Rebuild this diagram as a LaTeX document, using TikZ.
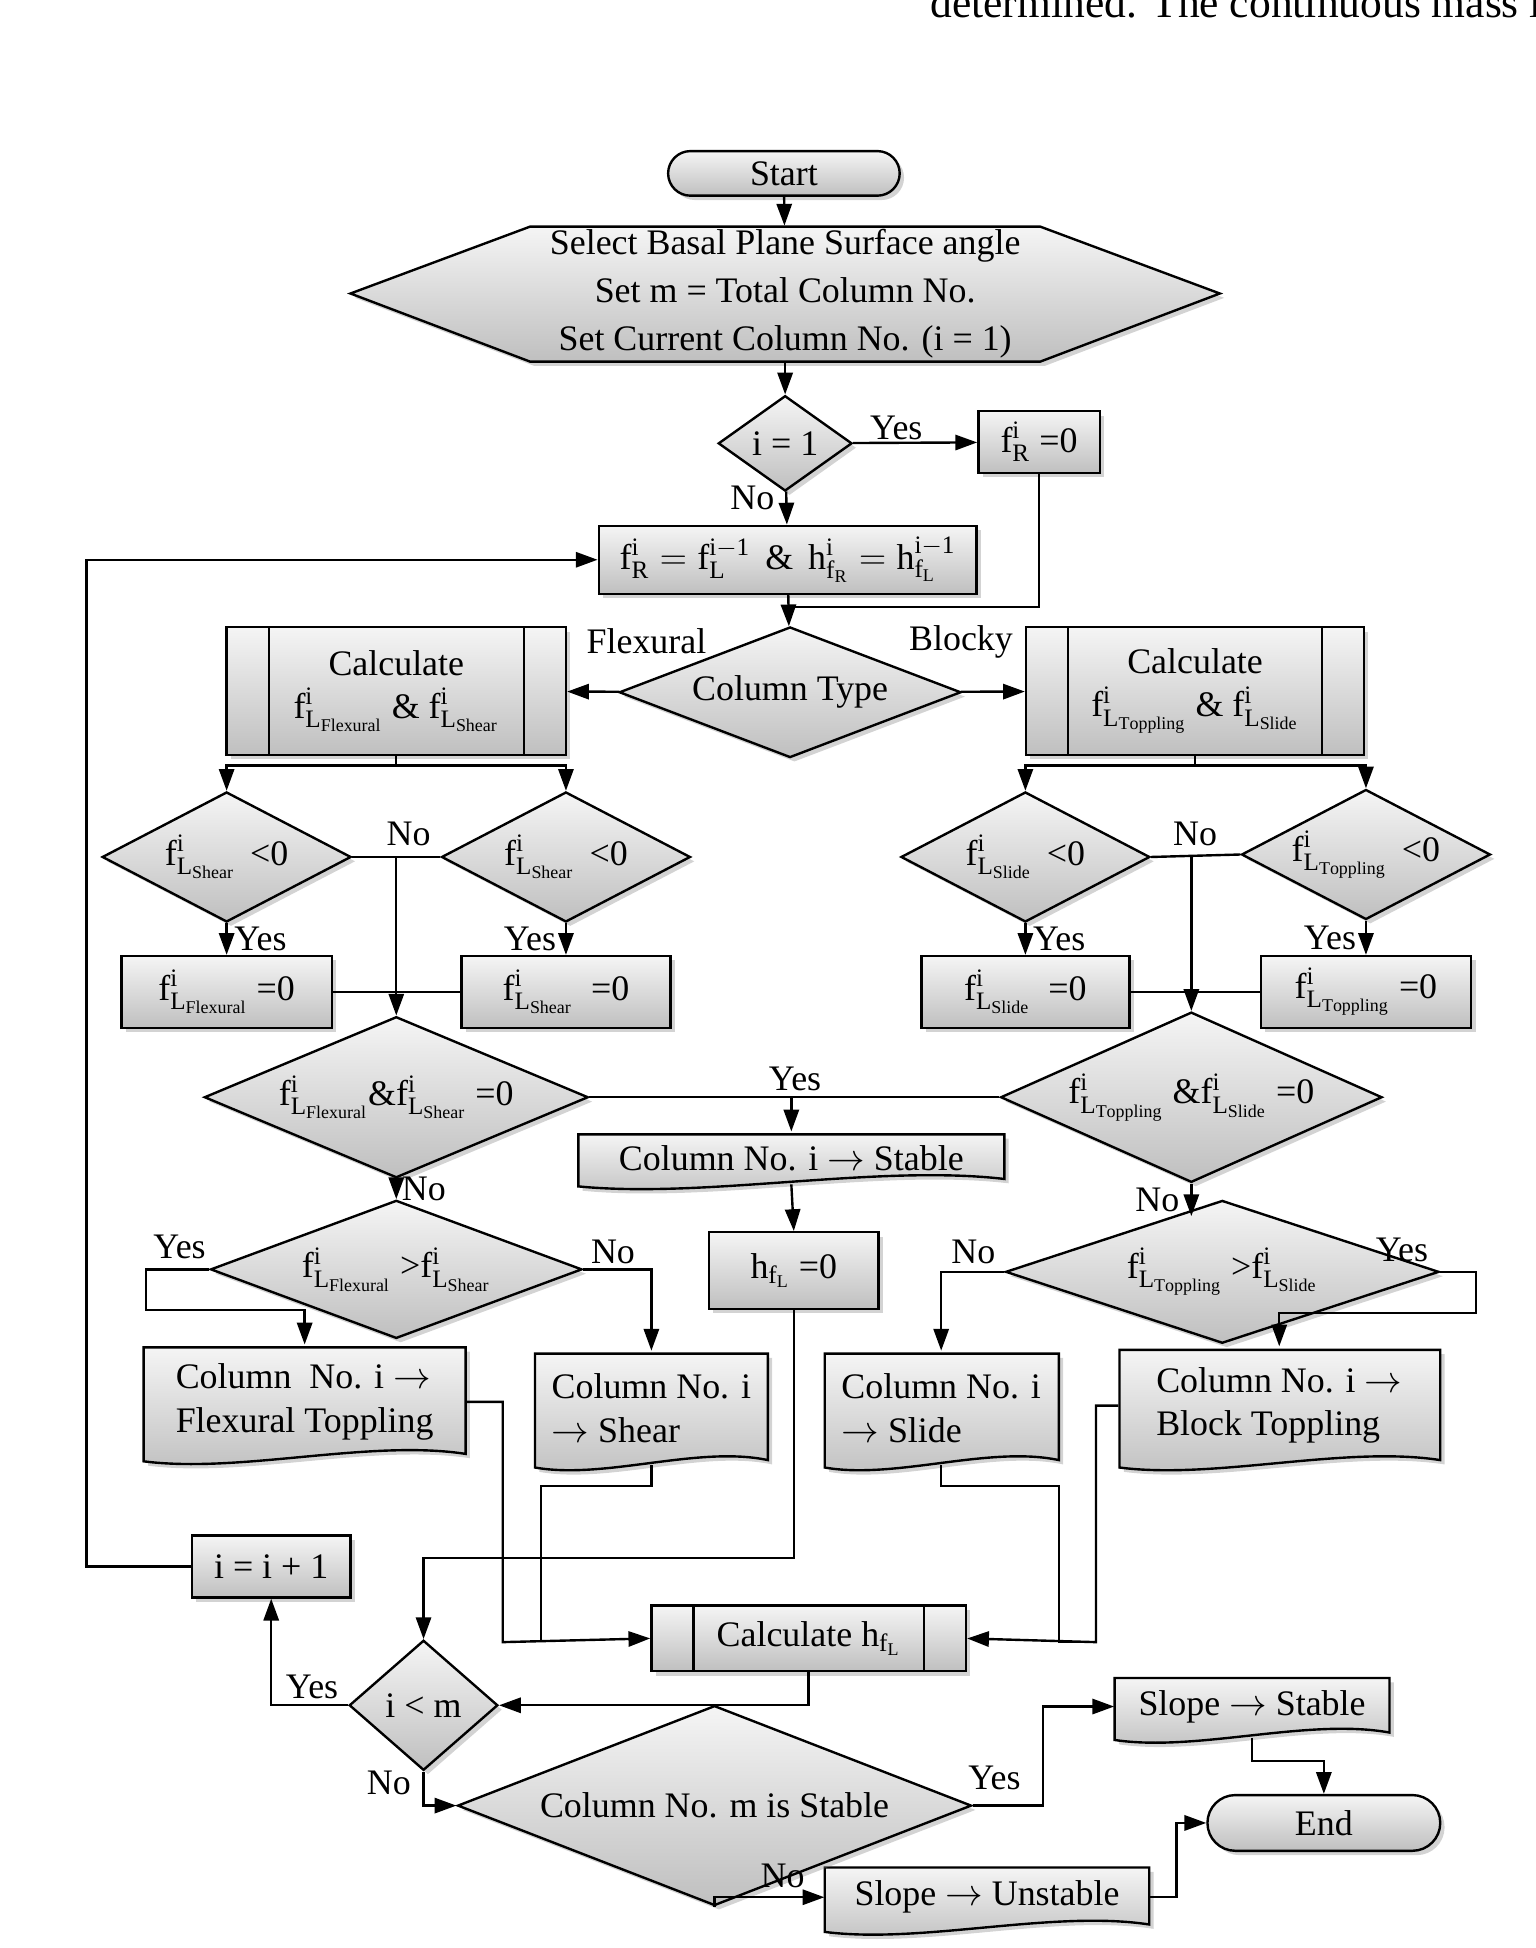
\documentclass[tikz,border=0pt]{standalone}
\usepackage{fontspec}
\setmainfont{Liberation Serif}
\usetikzlibrary{arrows.meta,shapes.geometric,shapes.misc,shadows,calc}
\newcommand\fLs[1]{$\mathrm{f}^{\mathrm{i}}_{\mathrm{L}_{\mathrm{#1}}}$}
\newcommand\docsh[4]{\path[fst] (#1,#2) -- (#3,#2) -- (#3,#4-6) .. controls ({#3-(#3-#1)*0.3},#4-18) and ({#1+(#3-#1)*0.3},#4+10) .. (#1,#4) -- cycle;}
\begin{document}
\begin{tikzpicture}[x=0.02cm,y=-0.02cm,
  font=\fontsize{16.5}{20}\selectfont,
  fst/.style={draw,line width=1.1pt,top color=gray!8,bottom color=gray!50,drop shadow={opacity=0.35,shadow xshift=2pt,shadow yshift=-2pt}},
  sz/.style 2 args={minimum width=#1*0.02cm,minimum height=#2*0.02cm,inner sep=0pt},
  box/.style={fst,rectangle},
  dia/.style={fst,diamond,aspect=2},
  term/.style={fst,rounded rectangle},
  txt/.style={draw=none,align=center},
  proc/.style={box,path picture={\draw[line width=1.1pt] ([xshift=0.68cm]path picture bounding box.north west) -- ([xshift=0.68cm]path picture bounding box.south west) ([xshift=-0.68cm]path picture bounding box.north east) -- ([xshift=-0.68cm]path picture bounding box.south east);}},
  ln/.style={line width=1.1pt},
  arr/.style={ln,-{Triangle[length=10pt,width=7pt]}},
  lab/.style={inner sep=1pt}]
\useasboundingbox (0,0) rectangle (1240,1573);
\begin{scope}
\clip (0,0) rectangle (1240,1573);
\node[anchor=west,font=\fontsize{20}{20}\selectfont] (hdr) at (745,6) {determined. The continuous mass is basically};
\end{scope}
% shapes drawn directly
\path[fst] (283,237) -- (428,183) -- (840,183) -- (985,237) -- (840,292) -- (428,292) -- cycle;
\docsh{467}{916}{811}{958}
\docsh{116}{1088}{376}{1180}
\docsh{432}{1093}{620}{1185}
\docsh{666}{1093}{855}{1185}
\docsh{904}{1090}{1163}{1185}
\docsh{900}{1355}{1122}{1405}
\docsh{666}{1508}{928}{1560}
% nodes
\node[term,sz={187}{36}] (start) at (633,140) {Start};
\node[txt,sz={702}{109}] (hex) at (634,237) {Select Basal Plane Surface angle\\[2pt]Set m = Total Column No.\\[2pt]Set Current Column No. (i = 1)};
\node[dia,sz={108}{77}] (iq) at (634,358) {i = 1};
\node[box,sz={98}{50}] (fr0) at (839,357) {$\mathrm{f}^{\mathrm i}_{\mathrm R}$ =0};
\node[box,sz={305}{55}] (asg) at (636,452) {$\mathrm{f}^{\mathrm i}_{\mathrm R}=\mathrm{f}^{\mathrm{i}-\mathrm{1}}_{\mathrm L}$ \,\&\, $\mathrm{h}^{\mathrm i}_{\mathrm{f}_{\mathrm R}}=\mathrm{h}^{\mathrm{i}-\mathrm{1}}_{\mathrm{f}_{\mathrm L}}$};
\node[dia,sz={276}{88}] (ct) at (638,559) {Column Type};
\node[proc,sz={274}{103},align=center] (calcL) at (320,558) {Calculate\\\fLs{Flexural} \& \fLs{Shear}};
\node[proc,sz={273}{103},align=center] (calcR) at (965,558) {Calculate\\\fLs{Toppling} \& \fLs{Slide}};
\node[dia,sz={201}{105}] (dL1) at (183,692) {\fLs{Shear} \,<0};
\node[dia,sz={201}{105}] (dL2) at (457,692) {\fLs{Shear} \,<0};
\node[dia,sz={201}{105}] (dR1) at (828,692) {\fLs{Slide} \,<0};
\node[dia,sz={201}{105}] (dR2) at (1103,690) {\fLs{Toppling} \,<0};
\node[box,sz={170}{58}] (bL1) at (183,801) {\fLs{Flexural} =0};
\node[box,sz={169}{58}] (bL2) at (457,801) {\fLs{Shear} \ =0};
\node[box,sz={168}{58}] (bR1) at (828,801) {\fLs{Slide} \ =0};
\node[box,sz={170}{58}] (bR2) at (1103,801) {\fLs{Toppling} =0};
\node[dia,sz={310}{128}] (dB) at (320,886) {\fLs{Flexural}\&\fLs{Shear} =0};
\node[dia,sz={308}{128}] (dBR) at (962,886) {\fLs{Toppling} \&\fLs{Slide} =0};
\node[txt,sz={344}{42}] (stab) at (639,935) {Column No. i $\rightarrow$ Stable};
\node[box,sz={137}{62}] (hf0) at (641,1026) {$\mathrm{h}_{\mathrm{f}_{\mathrm L}}$ =0};
\node[dia,sz={300}{90}] (dC) at (320,1025) {\fLs{Flexural} >\fLs{Shear}};
\node[dia,sz={350}{90}] (dCR) at (987,1027) {\fLs{Toppling} >\fLs{Slide}};
\node[txt,sz={260}{92},align=left] (FT) at (246,1132) {Column \ No. i $\rightarrow$\\Flexural Toppling};
\node[txt,sz={188}{92},align=left] (SH) at (526,1137) {Column No. i\\$\rightarrow$ Shear};
\node[txt,sz={189}{92},align=left] (SL) at (760,1137) {Column No. i\\$\rightarrow$ Slide};
\node[txt,sz={259}{95},align=left] (BT) at (1033,1135) {Column No. i $\rightarrow$\\Block Toppling};
\node[proc,sz={254}{53}] (calch) at (653,1323) {Calculate $\mathrm{h}_{\mathrm{f}_{\mathrm L}}$};
\node[box,sz={128}{50}] (inc) at (219,1265) {i = i + 1};
\node[dia,sz={120}{105}] (dim) at (342,1377) {i < m};
\node[dia,sz={415}{100}] (dD) at (577,1458) {Column No. m is Stable};
\node[txt,sz={222}{50}] (SS) at (1011,1378) {Slope $\rightarrow$ Stable};
\node[term,sz={188}{45}] (end) at (1069,1472) {End};
\node[txt,sz={262}{52}] (SU) at (797,1532) {Slope $\rightarrow$ Unstable};
% coordinates
\coordinate (j1) at (636,490);
\coordinate (lp) at (70,452);
\coordinate (cLj) at (320,618);
\coordinate (cRj) at (965,618);
\coordinate (nL) at (320,692);
\coordinate (nR) at (962,692);
\coordinate (mL) at (320,801);
\coordinate (mR) at (962,801);
\coordinate (ys) at (639,886);
\coordinate (cr) at (962,982);
\coordinate (yA) at (118,1058);
\coordinate (yB) at (1192,1060);
\coordinate (f1) at (406,1326);
\coordinate (s2) at (437,1200);
\coordinate (s3) at (437,1326);
\coordinate (t2) at (855,1200);
\coordinate (t3) at (855,1326);
\coordinate (g1) at (885,1326);
\coordinate (m1) at (342,1258);
\coordinate (q1) at (842,1378);
\coordinate (q2) at (1069,1422);
\coordinate (u1) at (950,1472);
% connectors
\draw[arr] (start) -- (hex);
\draw[arr] (hex) -- (iq);
\draw[arr] (iq) -- (fr0) node[lab,pos=0.35,above] {Yes};
\draw[arr] (iq) -- (asg) node[lab,pos=0.2,left,xshift=-4pt] {No};
\draw[ln] (fr0.south) |- (j1);
\draw[arr] (asg) -- (ct);
\draw[arr] (inc.west) -| (lp) -- (asg.west);
\draw[arr] (ct) -- (calcL);
\draw[arr] (ct) -- (calcR);
\node[lab] (flx) at (522,518) {Flexural};
\node[lab] (blk) at (776,518) {Blocky};
\draw[ln] (calcL.south) -- (cLj);
\draw[arr] (cLj) -| (dL1.north);
\draw[arr] (cLj) -| (dL2.north);
\draw[ln] (calcR.south) -- (cRj);
\draw[arr] (cRj) -| (dR1.north);
\draw[arr] (cRj) -| (dR2.north);
\draw[ln] (dL1.east) -- (dL2.west);
\draw[ln] (dR1.east) -- (dR2.west);
\node[lab] (noL) at (330,673) {No};
\node[lab] (noR) at (965,673) {No};
\draw[arr] (nL) -- (dB.north);
\draw[arr] (nR) -- (dBR.north);
\draw[arr] (dL1.south) -- (bL1.north) node[lab,midway,right,xshift=2pt] {Yes};
\draw[arr] (dL2.south) -- (bL2.north) node[lab,midway,left,xshift=-3pt] {Yes};
\draw[arr] (dR1.south) -- (bR1.north) node[lab,midway,right,xshift=2pt] {Yes};
\draw[arr] (dR2.south) -- (bR2.north) node[lab,midway,left,xshift=-3pt] {Yes};
\draw[ln] (bL1.east) -- (mL) -- (bL2.west);
\draw[ln] (bR1.east) -- (mR) -- (bR2.west);
\draw[ln] (dB.east) -- (dBR.west);
\node[lab] (yesS) at (642,871) {Yes};
\draw[arr] (ys) -- (stab.north);
\draw[arr] (stab.south) -- (hf0.north);
\draw[arr] (dB.south) -- (dC.north) node[lab,midway,right,xshift=1pt] {No};
\draw[arr] (dBR.south) -- (cr) node[lab,midway,left,xshift=-4pt] {No};
\draw[arr] (dC.west) -| (yA) -| (FT.north);
\node[lab] (yesC) at (145,1007) {Yes};
\draw[arr] (dC.east) -| (SH.north);
\node[lab] (noC) at (495,1011) {No};
\draw[arr] (dCR.west) -| (SL.north);
\node[lab] (noCR) at (786,1011) {No};
\draw[arr] (dCR.east) -| (yB) -| (BT.north);
\node[lab] (yesCR) at (1132,1009) {Yes};
\draw[arr] (FT.east) -| (f1) -- (calch.west);
\draw[ln] (SH.south) |- (s2) -- (s3);
\draw[ln] (SL.south) |- (t2) -- (t3) -- (g1);
\draw[arr] (BT.west) -| (g1) -- (calch.east);
\draw[arr] (hf0.south) |- (m1) -- (dim.north);
\draw[arr] (calch.south) |- (dim.east);
\draw[arr] (dim.west) -| (inc.south);
\node[lab] (yesI) at (252,1362) {Yes};
\draw[arr] (dim.south) |- (dD.west);
\node[lab] (noI) at (314,1440) {No};
\draw[arr] (dD.east) -| (q1) -- (SS.west);
\node[lab] (yesD) at (803,1436) {Yes};
\draw[arr] (SS.south) |- (q2) -- (end.north);
\draw[arr] (dD.south) |- (SU.west);
\node[lab] (noD) at (632,1515) {No};
\draw[arr] (SU.east) -| (u1) -- (end.west);
\end{tikzpicture}
\end{document}
